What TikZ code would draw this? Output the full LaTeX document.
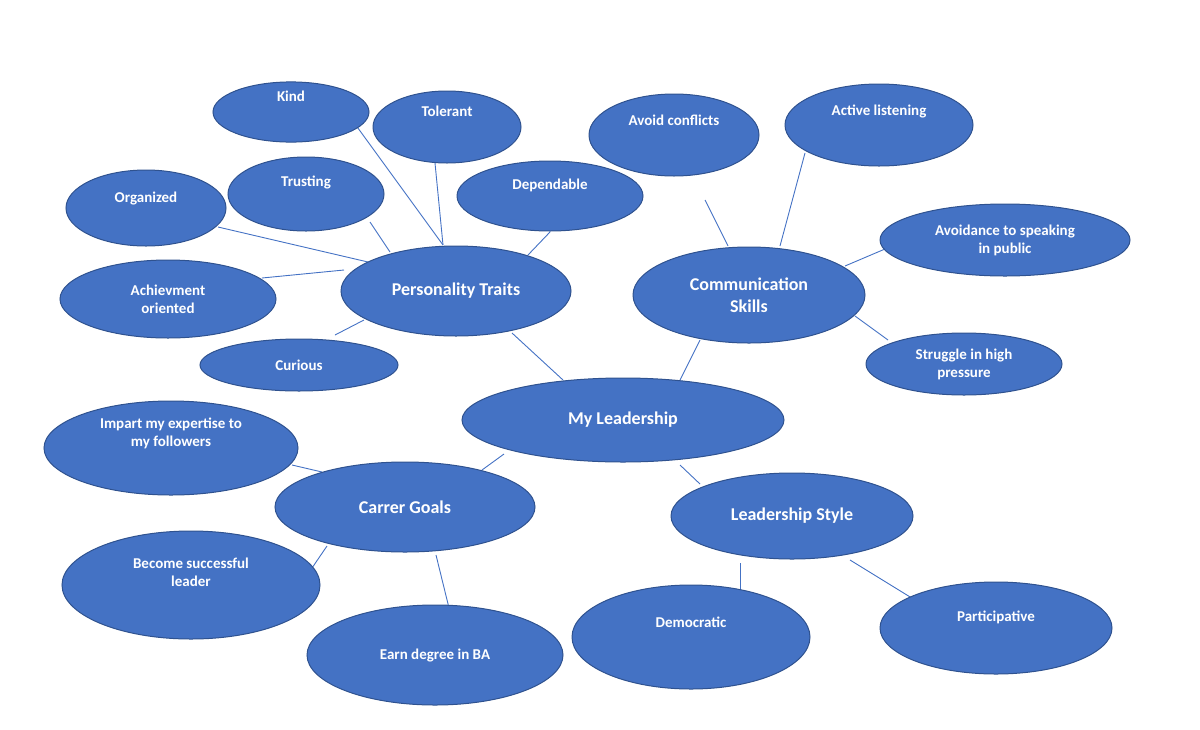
\documentclass[tikz,border=0pt]{standalone}
\usepackage{fontspec}
\setmainfont{Carlito}
\usetikzlibrary{shapes.geometric}
\definecolor{fillb}{HTML}{4472C4}
\definecolor{edgeb}{HTML}{2F528F}
\tikzset{
 bub/.style={ellipse, fill=fillb, draw=edgeb, line width=1pt, text=white, font=\bfseries\fontsize{15}{18}\selectfont, align=center, inner sep=0pt},
 big/.style={bub, font=\bfseries\fontsize{18}{22}\selectfont},
 link/.style={draw=fillb, line width=0.9pt}
}
\newcommand{\bb}[5]{\node[#1, minimum width=#3pt, minimum height=#4pt] (#2) at #5}
\begin{document}
\begin{tikzpicture}[x=1pt,y=-1pt]
\useasboundingbox (0,0) rectangle (1200,729);
\coordinate (pt) at (443,245);
\coordinate (pg) at (560,380);
% links drawn first
\draw[link] (355,124) -- (pt);
\draw[link] (435,163) -- (pt);
\draw[link] (728,246) -- (705,200);
\draw[link] (780,246) -- (805,153);
\draw[link] (218,227) -- (368,262);
\draw[link] (370,222) -- (390,252);
\draw[link] (528,255) -- (550,232);
\draw[link] (845,266) -- (885,249);
\draw[link] (262,278) -- (344,270);
\draw[link] (335,335) -- (364,320);
\draw[link] (855,316) -- (888,340);
\draw[link] (512,333) -- (563,380);
\draw[link] (700,340) -- (680,380);
\draw[link] (292,465) -- (322,472);
\draw[link] (482,470) -- (504,454);
\draw[link] (680,465) -- (700,484);
\draw[link] (312,568) -- (327,546);
\draw[link] (436,555) -- (450,612);
\draw[link] (740,563) -- (740,603);
\draw[link] (850,560) -- (915,600);
% nodes
\bb{bub}{kind}{156}{50}{(291,112)} {Kind\\[14pt]};
\bb{bub}{tol}{148}{72}{(447,127)} {Tolerant\\[14pt]};
\bb{bub}{avc}{170}{82}{(674,135)} {Avoid conflicts\\[12pt]};
\bb{bub}{act}{188}{82}{(879,125)} {Active listening\\[12pt]};
\bb{bub}{org}{160}{76}{(146,208)} {Organized\\[4pt]};
\bb{bub}{tru}{156}{74}{(306,194)} {Trusting\\[8pt]};
\bb{bub}{dep}{186}{70}{(550,196)} {Dependable\\[6pt]};
\bb{bub}{avd}{250}{72}{(1005,240)} {Avoidance to speaking\\in public};
\bb{big}{per}{230}{90}{(456,291)} {Personality Traits};
\bb{big}{com}{232}{96}{(749,295)} {Communication\\Skills};
\bb{bub}{ach}{216}{78}{(168,299)} {Achievment\\oriented};
\bb{bub}{cur}{198}{52}{(299,365)} {Curious};
\bb{bub}{str}{196}{62}{(964,364)} {Struggle in high\\pressure};
\bb{big}{my}{322}{84}{(623,420)} {My Leadership};
\bb{bub}{imp}{254}{94}{(171,448)} {Impart my expertise to\\my followers\\[14pt]};
\bb{big}{car}{260}{90}{(405,507)} {Carrer Goals};
\bb{big}{ls}{242}{86}{(792,516)} {Leadership Style};
\bb{bub}{bec}{258}{108}{(191,585)} {Become successful\\leader\\[8pt]};
\bb{bub}{earn}{256}{100}{(435,655)} {Earn degree in BA};
\bb{bub}{dem}{238}{104}{(691,637)} {Democratic\\[12pt]};
\bb{bub}{par}{232}{92}{(996,628)} {Participative\\[6pt]};
\end{tikzpicture}
\end{document}
